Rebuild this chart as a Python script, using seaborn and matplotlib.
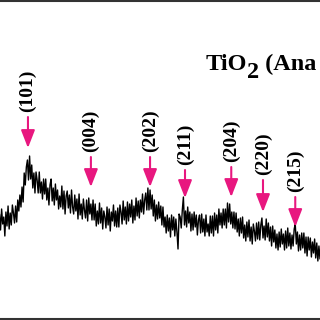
import matplotlib
matplotlib.use("Agg")
import matplotlib.pyplot as plt
import seaborn as sns
import numpy as np

# XRD scan, 2-theta from 20.0 to 79.8 deg, step 0.2 deg (intensity in a.u.)
two_theta = np.linspace(20.0, 79.8, 300)
intensity = [
    106, 90, 111, 96, 103, 84, 108, 94, 114, 91,
    107, 95, 115, 107, 97, 114, 98, 120, 109, 125,
    113, 133, 118, 147, 135, 153, 160, 140, 164, 141,
    155, 132, 147, 127, 148, 140, 127, 148, 127, 138,
    121, 141, 126, 141, 120, 132, 115, 135, 141, 119,
    132, 115, 136, 120, 130, 111, 124, 113, 134, 111,
    129, 106, 124, 129, 112, 125, 107, 130, 113, 106,
    125, 109, 121, 101, 126, 105, 116, 101, 121, 110,
    102, 120, 99, 122, 106, 116, 100, 120, 100, 116,
    94, 109, 96, 117, 97, 112, 91, 109, 103, 92,
    113, 95, 111, 89, 108, 99, 115, 94, 109, 93,
    112, 93, 115, 108, 96, 119, 100, 113, 96, 118,
    99, 116, 103, 120, 97, 114, 100, 122, 104, 119,
    102, 120, 108, 126, 106, 120, 127, 110, 132, 110,
    130, 111, 125, 104, 120, 99, 115, 101, 118, 102,
    114, 95, 113, 93, 103, 87, 105, 89, 102, 83,
    105, 90, 103, 84, 101, 88, 71, 106, 103, 92,
    110, 123, 95, 109, 93, 113, 97, 108, 89, 106,
    90, 108, 93, 105, 85, 100, 105, 87, 106, 88,
    101, 84, 105, 88, 96, 84, 104, 87, 104, 84,
    107, 90, 105, 87, 111, 95, 107, 92, 111, 95,
    111, 92, 117, 98, 116, 96, 108, 92, 108, 91,
    107, 88, 101, 84, 102, 87, 103, 82, 95, 79,
    98, 83, 100, 79, 93, 76, 96, 89, 79, 97,
    81, 98, 80, 95, 102, 82, 94, 80, 101, 83,
    97, 79, 93, 74, 94, 78, 90, 72, 86, 70,
    88, 73, 91, 76, 86, 70, 89, 72, 92, 74,
    87, 71, 85, 74, 91, 96, 76, 88, 69, 85,
    70, 87, 72, 87, 67, 83, 64, 83, 70, 82,
    63, 78, 67, 81, 62, 77, 59, 74, 61, 76,
]

# anatase reflections marked with arrows
hkl = ["(101)", "(004)", "(202)", "(211)", "(204)", "(220)", "(215)"]
peak_pos = [25.3, 37.0, 48.0, 54.5, 63.1, 69.0, 75.0]
arrow_top = [203, 163, 163, 150, 153, 140, 123]
arrow_tip = [172, 133, 133, 122, 123, 108, 93]

sns.set_theme(style="white")
plt.rcParams["font.family"] = ["Liberation Serif", "DejaVu Serif"]
plt.rcParams["text.color"] = "black"

fig = plt.figure(figsize=(3.2, 3.2), dpi=100)
ax = fig.add_axes([0, 1 / 320, 1, 318 / 320])

sns.lineplot(x=two_theta, y=intensity, ax=ax, color="black", lw=1.0)

pink = "#E8177F"
for lab, x, y0, y1 in zip(hkl, peak_pos, arrow_top, arrow_tip):
    ax.annotate("", xy=(x, y1), xytext=(x, y0),
                arrowprops=dict(arrowstyle="-|>,head_length=0.9,head_width=0.35",
                                color=pink, lw=1.5, shrinkA=0, shrinkB=0))
    ax.text(x, y0 + 5, lab, rotation=90, ha="center", va="bottom",
            fontsize=14, fontweight="bold", color="black")

# title pieces: big lowered subscript like the original (cut at the right edge)
t1 = ax.text(58.4, 250, "TiO", fontsize=17.5, fontweight="bold", va="baseline")
t2 = ax.annotate("2", xy=(1, 0), xycoords=t1, xytext=(0, -2), textcoords="offset points",
                 fontsize=17.5, fontweight="bold", va="baseline")
ax.annotate(" (Ana", xy=(1, 0), xycoords=(t2, t1), va="bottom",
            fontsize=17.5, fontweight="bold")

ax.set_xlim(20.1, 79.6)
ax.set_ylim(1, 319)
ax.set_xticks([])
ax.set_yticks([])
ax.set_xlabel("")
ax.set_ylabel("")
for side in ["left", "right"]:
    ax.spines[side].set_visible(False)
for side in ["top", "bottom"]:
    ax.spines[side].set_color("#333333")
    ax.spines[side].set_linewidth(1.5)

fig.savefig("out.png", dpi=100)
